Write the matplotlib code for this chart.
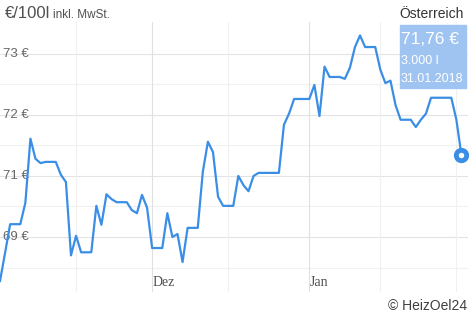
import matplotlib
matplotlib.use("Agg")
import matplotlib.pyplot as plt
import matplotlib.transforms as mtrans
import numpy as np

# daily price, 1 Nov 2017 .. 31 Jan 2018
days = np.arange(np.datetime64("2017-11-01"), np.datetime64("2018-02-01"))
prices = [69.28, 69.74, 70.21, 70.21, 70.21, 70.56, 71.61, 71.28, 71.21, 71.23,
          71.23, 71.23, 71.02, 70.90, 69.70, 70.02, 69.75, 69.75, 69.75, 70.51,
          70.20, 70.70, 70.62, 70.57, 70.57, 70.57, 70.44, 70.39, 70.69, 70.48,
          69.82, 69.82, 69.82, 70.39, 70.00, 70.05, 69.59, 70.15, 70.15, 70.15,
          71.07, 71.56, 71.39, 70.66, 70.51, 70.51, 70.51, 71.00, 70.85, 70.75,
          71.00, 71.05, 71.05, 71.05, 71.05, 71.05, 71.84, 72.02, 72.26, 72.26,
          72.26, 72.26, 72.49, 71.98, 72.79, 72.62, 72.62, 72.62, 72.59, 72.77,
          73.11, 73.30, 73.11, 73.11, 73.11, 72.74, 72.52, 72.56, 72.16, 71.92,
          71.92, 71.92, 71.80, 71.92, 72.02, 72.28, 72.28, 72.28, 72.28, 72.28,
          71.92, 71.34]

ytick_vals = [73, 72, 71, 70]
ytick_labels = ["73 €", "72 €", "71 €", "69 €"]
yminor_vals = [72.5, 71.5, 70.5, 69.5]
month_ticks = [np.datetime64("2017-12-01"), np.datetime64("2018-01-01")]
month_labels = ["Dez", "Jan"]
minor_vlines = [np.datetime64("2017-11-16"), np.datetime64("2017-12-16"),
                np.datetime64("2018-01-15"), np.datetime64("2018-01-30")]

blue = "#3a8ee6"

fig = plt.figure(figsize=(4.72, 3.2), dpi=100)
ax = fig.add_axes([0, 28 / 320, 468 / 472, 270 / 320])
ax.set_xlim(days[0], days[0] + np.timedelta64(int(92.3 * 24), "h"))
ax.set_ylim(69.10, 73.52)
for s in ax.spines.values():
    s.set_visible(False)
ax.set_xticks([])
ax.set_yticks([])

# grid
for v in ytick_vals:
    ax.axhline(v, color="#e3e3e3", lw=0.8, zorder=0)
for v in yminor_vals:
    ax.axhline(v, color="#f1f1f1", lw=0.8, zorder=0)
for d in month_ticks:
    ax.axvline(d, color="#e0e0e0", lw=0.8, zorder=0)
for d in minor_vlines:
    ax.axvline(d, color="#f0f0f0", lw=0.8, zorder=0)

ax.plot(days, prices, color=blue, lw=1.6, zorder=3, solid_joinstyle="round")
ax.plot(days[-1], prices[-1], "o", ms=7.5, mfc="white", mec=blue, mew=3.5, zorder=4)

# y labels inside the plot
tr = mtrans.blended_transform_factory(ax.transAxes, ax.transData)
for v, lab in zip(ytick_vals, ytick_labels):
    ax.text(0.006, v, lab, transform=tr, ha="left", va="center",
            fontsize=9.5, color="#666666", family="Liberation Sans", zorder=2)

# month labels
trx = mtrans.blended_transform_factory(ax.transData, ax.transAxes)
for d, lab in zip(month_ticks, month_labels):
    ax.text(d, 0.035, lab, transform=trx, ha="left", va="center",
            fontsize=10, color="#505050", family="Liberation Serif")

# header texts
fig.text(5 / 472, 1 - 14 / 320, "€/100l", fontsize=12, color="#505050",
         family="Liberation Sans", va="center", ha="left")
fig.text(53 / 472, 1 - 15 / 320, "inkl. MwSt.", fontsize=8.5, color="#505050",
         family="Liberation Sans", va="center", ha="left")
fig.text(464 / 472, 1 - 14 / 320, "Österreich", fontsize=10, color="#333333",
         family="Liberation Sans", va="center", ha="right")

# tooltip box
box = plt.Rectangle((400 / 472, 1 - 88 / 320), 66 / 472, 63 / 320,
                    transform=fig.transFigure, color="#9fc4f1", zorder=5)
fig.add_artist(box)
fig.text(401 / 472, 1 - 40 / 320, "71,76 €", fontsize=12.5, color="white",
         family="Liberation Sans", va="center", ha="left", zorder=6)
fig.text(401 / 472, 1 - 61 / 320, "3.000 l", fontsize=9, color="white",
         family="Liberation Sans", va="center", ha="left", zorder=6)
fig.text(401 / 472, 1 - 79 / 320, "31.01.2018", fontsize=9, color="white",
         family="Liberation Sans", va="center", ha="left", zorder=6)

fig.text(467 / 472, 1 - 306 / 320, "© HeizOel24", fontsize=10, color="#404040",
         family="Liberation Sans", va="center", ha="right")

fig.savefig("out.png", dpi=100)
